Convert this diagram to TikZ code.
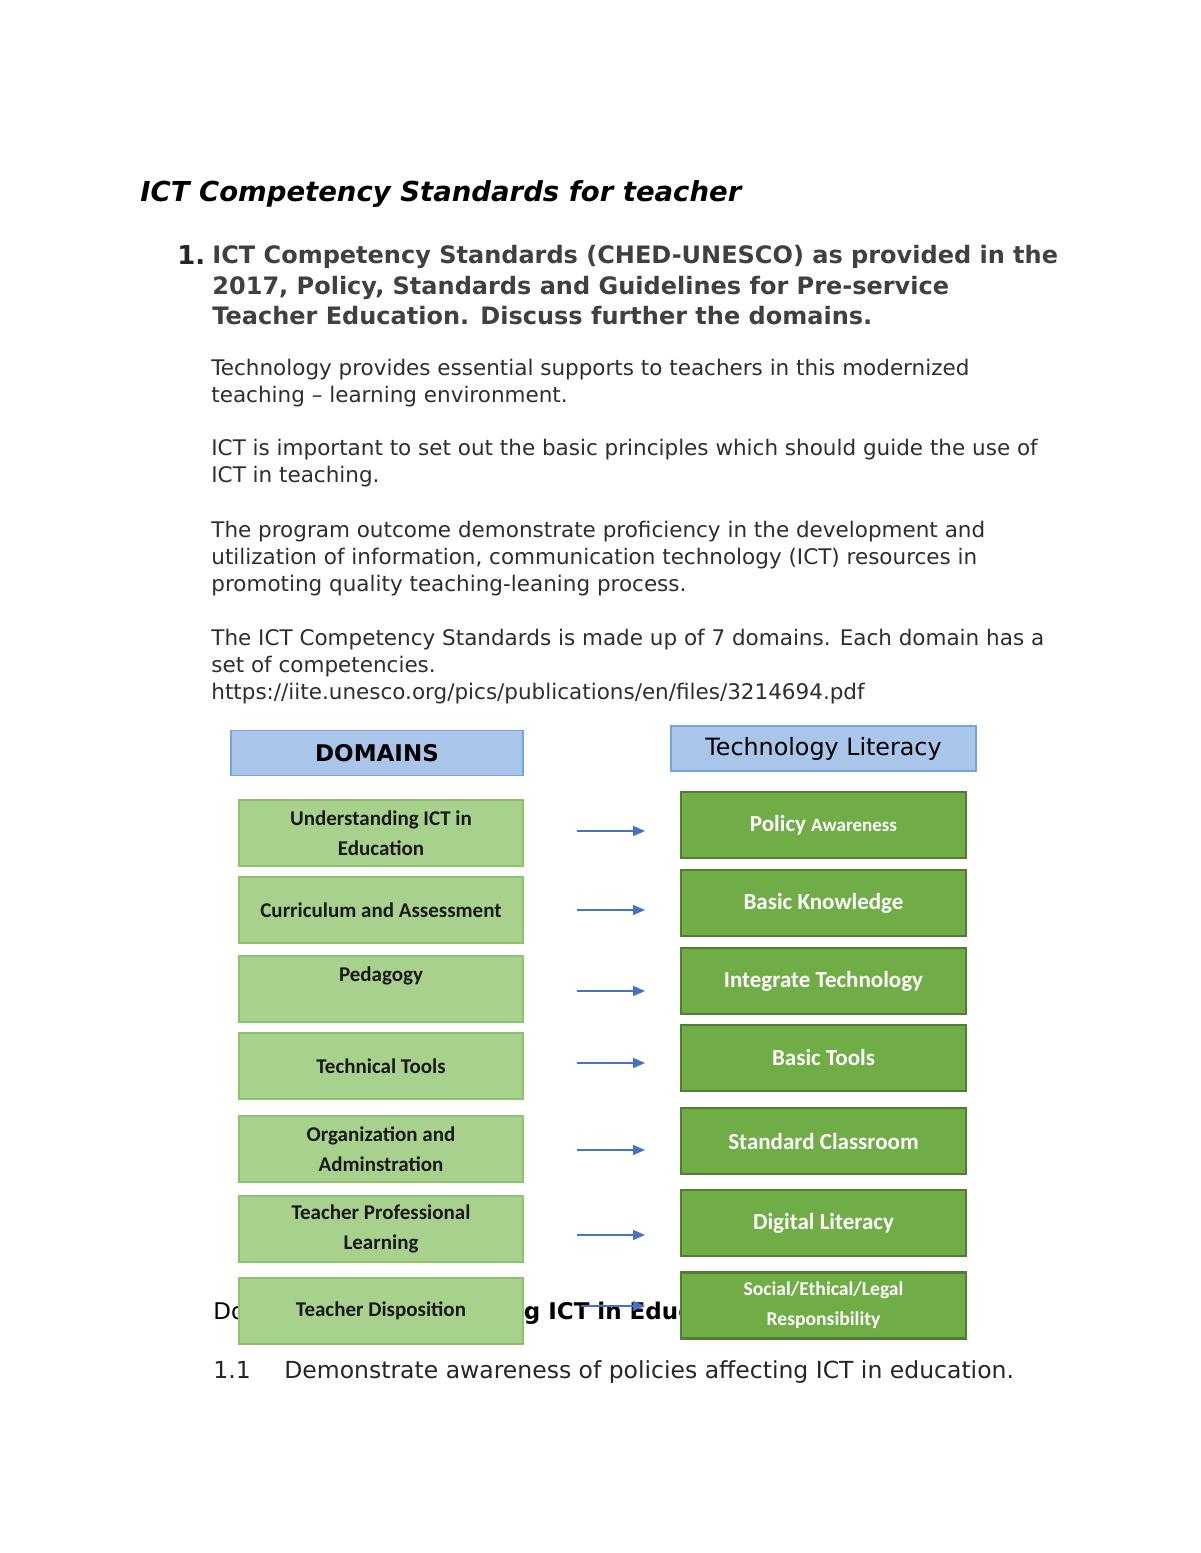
\documentclass[tikz,border=0pt]{standalone}
\usepackage{fontspec}
\setmainfont{DejaVu Sans}
\newfontfamily\boxfont{Carlito}
\usetikzlibrary{arrows.meta}
\definecolor{headblue}{HTML}{A9C5EA}
\definecolor{headline}{HTML}{6FA8DC}
\definecolor{domgreen}{HTML}{A9D18E}
\definecolor{domline}{HTML}{8CC46C}
\definecolor{litgreen}{HTML}{70AD47}
\definecolor{litline}{HTML}{507E32}
\definecolor{arrowblue}{HTML}{4472C4}

\begin{document}
\begin{tikzpicture}[x=0.5pt, y=-0.5pt,
  txt/.style={anchor=base west, inner sep=0pt},
  body/.style={txt, text=black!82, font=\fontsize{10.75}{13.5}\selectfont},
  item/.style={txt, text=black!75, font=\bfseries\fontsize{12}{15}\selectfont},
  head/.style={draw=headline, fill=headblue, line width=0.8pt, inner sep=0pt, minimum height=22.5pt},
  dom/.style={draw=domline, fill=domgreen, line width=0.9pt, minimum width=142pt, minimum height=33pt,
    inner sep=0pt, align=center, text=black!90, font=\boxfont\bfseries\fontsize{10.5}{15}\selectfont},
  lit/.style={draw=litline, fill=litgreen, line width=1.3pt, minimum width=142.5pt, minimum height=33pt,
    inner sep=0pt, align=center, text=white, font=\boxfont\bfseries\fontsize{11.5}{15}\selectfont},
  link/.style={draw=arrowblue, line width=0.7pt, -{Triangle[length=6pt, width=5pt]}}]
\fill[white] (0,0) rectangle (1200,1553);
\useasboundingbox (0,0) rectangle (1200,1553);

\node[txt, font=\bfseries\itshape\fontsize{13.75}{16}\selectfont] (title) at (140,201) {ICT Competency Standards for teacher};
\node[txt, text=black!85, font=\bfseries\fontsize{13}{15}\selectfont] (num) at (177,264) {1.};
\node[item] (q1) at (212,263) {ICT Competency Standards (CHED-UNESCO) as provided in the};
\node[item] (q2) at (212,294) {2017, Policy, Standards and Guidelines for Pre-service};
\node[item] (q3) at (212,324) {Teacher Education. Discuss further the domains.};

\node[body] (p1) at (211,375) {Technology provides essential supports to teachers in this modernized};
\node[body] (p2) at (211,402) {teaching -- learning environment.};
\node[body] (p3) at (211,455) {ICT is important to set out the basic principles which should guide the use of};
\node[body] (p4) at (211,482) {ICT in teaching.};
\node[body] (p5) at (211,537) {The program outcome demonstrate proficiency in the development and};
\node[body] (p6) at (211,564) {utilization of information, communication technology (ICT) resources in};
\node[body] (p7) at (211,591) {promoting quality teaching-leaning process.};
\node[body] (p8) at (211,645) {The ICT Competency Standards is made up of 7 domains. Each domain has a};
\node[body] (p9) at (211,672) {set of competencies.};
\node[body] (p10) at (211,699) {https://iite.unesco.org/pics/publications/en/files/3214694.pdf};

\node[txt, text=black, font=\fontsize{11.5}{14}\selectfont] (dhead) at (213,1319) {Domain 1:\hspace{3pt} \textbf{Understanding ICT in Education}};
\node[txt, text=black!85, font=\fontsize{11.75}{14}\selectfont] (n11) at (213,1378) {1.1};
\node[txt, text=black!85, font=\fontsize{11.75}{14}\selectfont] (d11) at (284,1378) {Demonstrate awareness of policies affecting ICT in education.};

\node[head, minimum width=146pt, font=\bfseries\fontsize{11.5}{14}\selectfont] (domhead) at (377,753) {DOMAINS};
\node[head, minimum width=152.5pt, font=\fontsize{11.9}{14}\selectfont] (lithead) at (823.5,748.5) {Technology Literacy};

\node[dom] (dom1) at (381,833) {Understanding ICT in\\Education};
\node[dom] (dom2) at (381,910) {Curriculum and Assessment};
\node[dom] (dom3) at (381,989) {Pedagogy\\\mbox{}};
\node[dom] (dom4) at (381,1066) {Technical Tools};
\node[dom] (dom5) at (381,1149) {Organization and\\Adminstration};
\node[dom] (dom6) at (381,1229) {Teacher Professional\\Learning};
\node[dom] (dom7) at (381,1311) {Teacher Disposition};

\node[lit] (lit1) at (823.5,825) {Policy {\fontsize{9.5}{15}\selectfont Awareness}};
\node[lit] (lit2) at (823.5,903) {Basic Knowledge};
\node[lit] (lit3) at (823.5,981) {Integrate Technology};
\node[lit] (lit4) at (823.5,1058) {Basic Tools};
\node[lit] (lit5) at (823.5,1141) {Standard Classroom};
\node[lit] (lit6) at (823.5,1223) {Digital Literacy};
\node[lit, font=\boxfont\bfseries\fontsize{9.8}{15}\selectfont] (lit7) at (823.5,1305.5) {Social/Ethical/Legal\\Responsibility};

\coordinate (a1) at (577,831);
\coordinate (b1) at (645,831);
\coordinate (a2) at (577,910);
\coordinate (b2) at (645,910);
\coordinate (a3) at (577,991);
\coordinate (b3) at (645,991);
\coordinate (a4) at (577,1063);
\coordinate (b4) at (645,1063);
\coordinate (a5) at (577,1150);
\coordinate (b5) at (645,1150);
\coordinate (a6) at (577,1235);
\coordinate (b6) at (645,1235);
\coordinate (a7) at (581,1306);
\coordinate (b7) at (645,1306);
\draw[link] (a1) -- (b1);
\draw[link] (a2) -- (b2);
\draw[link] (a3) -- (b3);
\draw[link] (a4) -- (b4);
\draw[link] (a5) -- (b5);
\draw[link] (a6) -- (b6);
\draw[link] (a7) -- (b7);
\end{tikzpicture}
\end{document}
